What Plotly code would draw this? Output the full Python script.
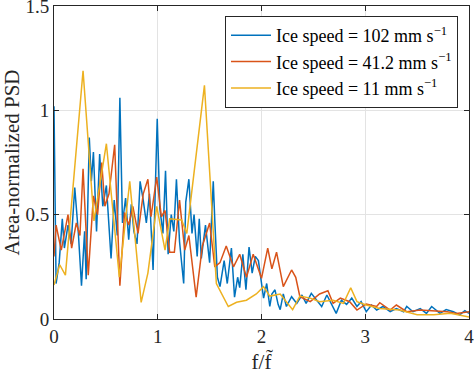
import plotly.graph_objects as go

# ---- data ----
blue_x = [0.0, 0.02, 0.05, 0.08, 0.10, 0.135, 0.165, 0.2, 0.235, 0.265, 0.295, 0.31, 0.34, 0.36, 0.38,
          0.41, 0.44, 0.47, 0.505, 0.53, 0.55, 0.58, 0.61, 0.635, 0.66, 0.69, 0.72, 0.745, 0.77, 0.80,
          0.83, 0.86, 0.89, 0.92, 0.955, 0.995, 1.02, 1.05, 1.075, 1.10, 1.13, 1.155, 1.18, 1.21, 1.25,
          1.27, 1.30, 1.33, 1.35, 1.38, 1.40, 1.42, 1.46, 1.5, 1.535, 1.55, 1.575, 1.6, 1.64, 1.67, 1.71,
          1.74, 1.77, 1.79, 1.82, 1.85, 1.88, 1.91, 1.94, 1.97, 2.0, 2.02, 2.05, 2.08, 2.1, 2.13, 2.16,
          2.18, 2.21, 2.24, 2.29, 2.34, 2.39, 2.43, 2.48, 2.53, 2.58, 2.63, 2.68, 2.72, 2.77, 2.82, 2.87,
          2.92, 2.96, 3.01, 3.06, 3.11, 3.17, 3.24, 3.3, 3.37, 3.4, 3.46, 3.53, 3.59, 3.64, 3.72, 3.78,
          3.85, 3.91, 3.96, 4.0]
blue_y = [1.02, 0.17, 0.27, 0.48, 0.34, 0.45, 0.36, 0.63, 0.41, 0.16, 0.42, 0.19, 0.87, 0.66, 0.80,
          0.42, 0.79, 0.54, 0.64, 0.45, 0.29, 0.57, 0.40, 1.06, 0.46, 0.58, 0.38, 0.55, 0.42, 0.36,
          0.66, 0.57, 0.46, 0.60, 0.235, 0.96, 0.53, 0.41, 0.71, 0.31, 0.50, 0.42, 0.67, 0.37, 0.17,
          0.56, 0.67, 0.41, 0.50, 0.30, 0.48, 0.29, 0.45, 0.27, 0.66, 0.47, 0.20, 0.155, 0.28, 0.17, 0.34,
          0.105, 0.20, 0.15, 0.31, 0.14, 0.345, 0.22, 0.30, 0.28, 0.17, 0.10, 0.17, 0.06, 0.12, 0.14, 0.07,
          0.045, 0.12, 0.06, 0.107, 0.075, 0.115, 0.075, 0.123, 0.09, 0.06, 0.115, 0.067, 0.027, 0.09, 0.07, 0.10,
          0.06, 0.083, 0.035, 0.067, 0.043, 0.06, 0.035, 0.05, 0.035, 0.06, 0.035, 0.05, 0.027, 0.06, 0.027, 0.045,
          0.035, 0.02, 0.04, 0.027]

orange_x = [0.0, 0.02, 0.07, 0.135, 0.17, 0.215, 0.25, 0.28, 0.33, 0.38, 0.42, 0.46, 0.49, 0.53, 0.585,
            0.635, 0.68, 0.72, 0.76, 0.81, 0.86, 0.905, 0.935, 0.99, 1.035, 1.07, 1.115, 1.16, 1.21, 1.26,
            1.30, 1.37, 1.43, 1.50, 1.55, 1.60, 1.66, 1.73, 1.79, 1.855, 1.92, 2.0, 2.06, 2.1, 2.145,
            2.21, 2.29, 2.33, 2.37, 2.47, 2.56, 2.64, 2.69, 2.76, 2.85, 2.92, 3.01, 3.11, 3.14, 3.24,
            3.3, 3.4, 3.53, 3.66, 3.79, 3.88, 4.0]
orange_y = [0.30, 0.45, 0.33, 0.50, 0.34, 0.46, 0.40, 0.72, 0.21, 0.59, 0.50, 0.75, 0.54, 0.60, 0.835,
            0.16, 0.51, 0.45, 0.54, 0.41, 0.60, 0.67, 0.49, 0.68, 0.49, 0.52, 0.32, 0.32, 0.57, 0.33,
            0.40, 0.105, 0.35, 0.46, 0.25, 0.27, 0.35, 0.25, 0.31, 0.20, 0.31, 0.195, 0.34, 0.24, 0.32,
            0.155, 0.235, 0.20, 0.107, 0.083, 0.12, 0.135, 0.075, 0.10, 0.083, 0.043, 0.072, 0.06, 0.078, 0.043,
            0.067, 0.035, 0.043, 0.04, 0.035, 0.027, 0.035]

yellow_x = [0.0, 0.055, 0.11, 0.28, 0.385, 0.505, 0.63, 0.73, 0.84, 0.905, 0.99, 1.07, 1.115, 1.23, 1.28,
            1.45, 1.565, 1.68, 1.76, 1.855, 1.95, 2.02, 2.08, 2.18, 2.3, 2.37, 2.47, 2.56, 2.69, 2.79,
            2.86, 2.92, 3.01, 3.14, 3.33, 3.5, 3.66, 3.82, 4.0]
yellow_y = [0.163, 0.26, 0.21, 1.19, 0.47, 0.84, 0.20, 0.66, 0.08, 0.22, 0.54, 0.33, 0.48, 0.475, 0.41,
            1.12, 0.17, 0.06, 0.08, 0.09, 0.12, 0.155, 0.11, 0.12, 0.045, 0.11, 0.10, 0.083, 0.09, 0.075,
            0.15, 0.083, 0.067, 0.05, 0.043, 0.02, 0.02, 0.027, 0.01]

series_names = ["Ice speed = 102 mm s<sup>\u22121</sup>",
                "Ice speed = 41.2 mm s<sup>\u22121</sup>",
                "Ice speed = 11 mm s<sup>\u22121</sup>"]
series_colors = ["#0072BD", "#D95319", "#EDB120"]

x_ticks = [0, 1, 2, 3, 4]
x_ticklabels = ["0", "1", "2", "3", "4"]
y_ticks = [0, 0.5, 1, 1.5]
y_ticklabels = ["0", "0.5", "1", "1.5"]

FONT = "Liberation Serif"

fig = go.Figure()
for xs, ys, name, col in zip([blue_x, orange_x, yellow_x], [blue_y, orange_y, yellow_y],
                             series_names, series_colors):
    fig.add_trace(go.Scatter(x=xs, y=ys, mode="lines", name=name,
                             line=dict(color=col, width=1.5)))

axis_common = dict(showline=True, linecolor="#262626", linewidth=1, mirror="ticks",
                   ticks="inside", ticklen=5, tickcolor="#262626",
                   showgrid=True, gridcolor="#e3e3e3", gridwidth=1, zeroline=False,
                   automargin=False, ticklabeloverflow="allow",
                   tickfont=dict(family=FONT, size=19, color="#262626"))

fig.update_xaxes(range=[0, 4], tickvals=x_ticks, ticktext=x_ticklabels,
                 title=dict(text="f/f\u0303", font=dict(family=FONT, size=21, color="#262626"), standoff=8),
                 **axis_common)
fig.update_yaxes(range=[0, 1.5], tickvals=y_ticks, ticktext=y_ticklabels,
                 title=dict(text="Area-normalized PSD", font=dict(family=FONT, size=21, color="#262626"), standoff=4),
                 **axis_common)

fig.update_layout(
    width=474, height=376,
    margin=dict(l=54, r=5, t=6, b=57),
    plot_bgcolor="white", paper_bgcolor="white",
    font=dict(family=FONT, size=18, color="#262626"),
    legend=dict(x=0.9735, y=0.968, xanchor="right", yanchor="top",
                bgcolor="white", bordercolor="#262626", borderwidth=1,
                font=dict(family=FONT, size=18, color="black"),
                itemwidth=40, tracegroupgap=0),
    showlegend=True,
)

fig.write_html("out.html", config={"displayModeBar": False},
               post_script="document.body.style.margin='0';")
